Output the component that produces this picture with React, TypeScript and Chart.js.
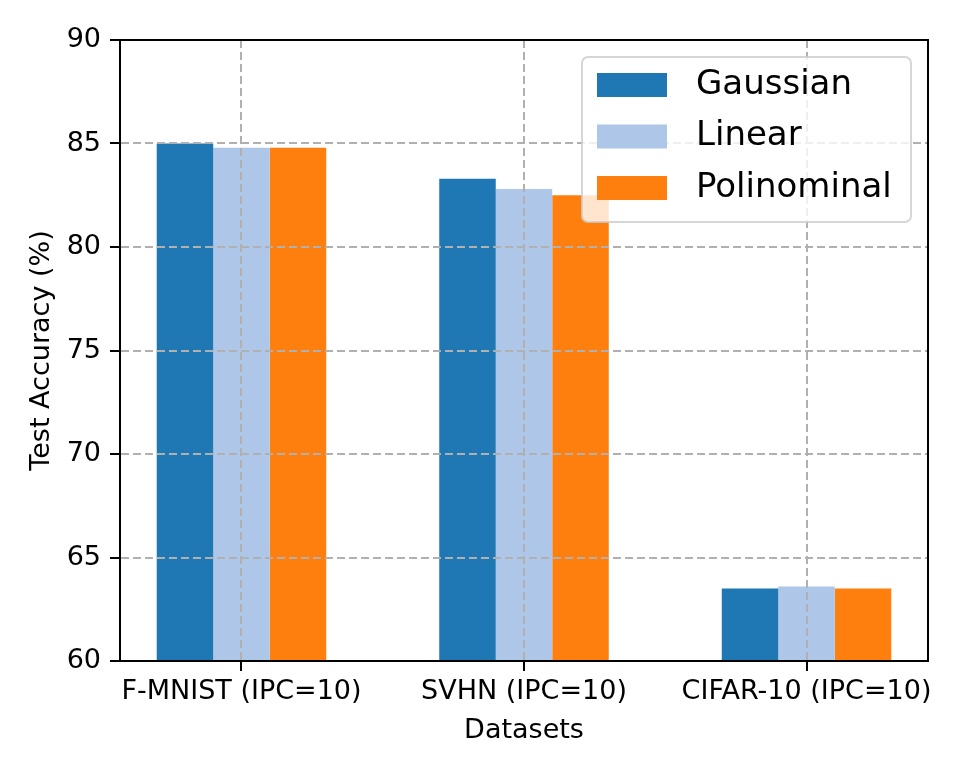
import React, { useEffect, useRef } from "react";
import { Chart, registerables } from "chart.js";

Chart.register(...registerables);

const categories = ["F-MNIST (IPC=10)", "SVHN (IPC=10)", "CIFAR-10 (IPC=10)"];
const seriesNames = ["Gaussian", "Linear", "Polinominal"];
const gaussian = [85.0, 83.3, 63.5];
const linear = [84.8, 82.8, 63.6];
const polinominal = [84.8, 82.5, 63.5];
const seriesColors = ["#1f77b4", "#aec7e8", "#ff7f0e"];
const yMin = 60;
const yMax = 90;
const yStep = 5;

const FONT = "'DejaVu Sans', 'Liberation Sans', sans-serif";

const frameAndLegend = {
  id: "frameAndLegend",
  afterDraw(chart: any) {
    const { ctx, chartArea } = chart;
    ctx.save();
    ctx.strokeStyle = "#000";
    ctx.lineWidth = 2;
    ctx.strokeRect(chartArea.left, chartArea.top, chartArea.right - chartArea.left, chartArea.bottom - chartArea.top);

    const boxW = 329;
    const boxH = 165;
    const bx = chartArea.right - 17 - boxW;
    const by = chartArea.top + 17;
    ctx.beginPath();
    (ctx as any).roundRect(bx, by, boxW, boxH, 6);
    ctx.fillStyle = "rgba(255,255,255,0.8)";
    ctx.fill();
    ctx.strokeStyle = "rgba(204,204,204,0.8)";
    ctx.lineWidth = 2;
    ctx.stroke();

    ctx.font = `34px ${FONT}`;
    ctx.textBaseline = "middle";
    ctx.textAlign = "left";
    chart.data.datasets.forEach((ds: any, i: number) => {
      const sy = by + 16 + i * 51.5;
      ctx.fillStyle = ds.backgroundColor;
      ctx.fillRect(bx + 15, sy, 70, 24);
      ctx.fillStyle = "#000";
      ctx.fillText(ds.label, bx + 114, sy + 12);
    });
    ctx.restore();
  },
};

export default function App() {
  const canvasRef = useRef<HTMLCanvasElement | null>(null);

  useEffect(() => {
    if (!canvasRef.current) return;
    const seriesValues = [gaussian, linear, polinominal];
    const chart = new Chart(canvasRef.current, {
      type: "bar",
      data: {
        datasets: seriesNames.map((name, si) => ({
          label: name,
          data: categories.map((_, ci) => ({ x: ci, y: seriesValues[si][ci] })),
          backgroundColor: seriesColors[si],
          borderWidth: 0,
          categoryPercentage: 0.6,
          barPercentage: 1.0,
        })),
      },
      options: {
        animation: false,
        responsive: false,
        devicePixelRatio: 1,
        layout: { padding: { top: 40, right: 41, left: 0, bottom: 0 } },
        plugins: { legend: { display: false }, tooltip: { enabled: false } },
        scales: {
          x: {
            type: "linear",
            offset: false,
            min: -0.43,
            max: 2.43,
            afterBuildTicks: (s: any) => {
              s.ticks = categories.map((_, i) => ({ value: i }));
            },
            afterFit: (s: any) => {
              s.height = 114;
            },
            ticks: {
              autoSkip: false,
              maxRotation: 0,
              minRotation: 0,
              padding: 5,
              color: "#000",
              font: { family: FONT, size: 27 },
              callback: (v: any) => categories[v] ?? "",
            },
            grid: {
              offset: false,
              z: 1,
              color: "#b0b0b0",
              lineWidth: 2,
              tickColor: "#000",
              tickWidth: 2,
              tickLength: 10,
            },
            border: { display: true, color: "#000", width: 2, dash: [8, 4], z: 2 },
            title: {
              display: true,
              text: "Datasets",
              color: "#000",
              font: { family: FONT, size: 27 },
              padding: { top: 0, bottom: 28 },
            },
          },
          y: {
            min: yMin,
            max: yMax,
            afterFit: (s: any) => {
              s.width = 120;
            },
            ticks: {
              stepSize: yStep,
              padding: 9,
              color: "#000",
              font: { family: FONT, size: 27 },
            },
            grid: {
              z: 1,
              color: "#b0b0b0",
              lineWidth: 2,
              tickColor: "#000",
              tickWidth: 2,
              tickLength: 10,
            },
            border: { display: true, color: "#000", width: 2, dash: [8, 4], z: 2 },
            title: {
              display: true,
              text: "Test Accuracy (%)",
              color: "#000",
              font: { family: FONT, size: 27 },
              padding: { top: 26, bottom: 0 },
            },
          },
        },
      },
      plugins: [frameAndLegend],
    } as any);
    return () => chart.destroy();
  }, []);

  return (
    <div style={{ position: "absolute", left: 0, top: 0, width: 969, height: 775, background: "#fff" }}>
      <canvas ref={canvasRef} width={969} height={775} />
    </div>
  );
}
